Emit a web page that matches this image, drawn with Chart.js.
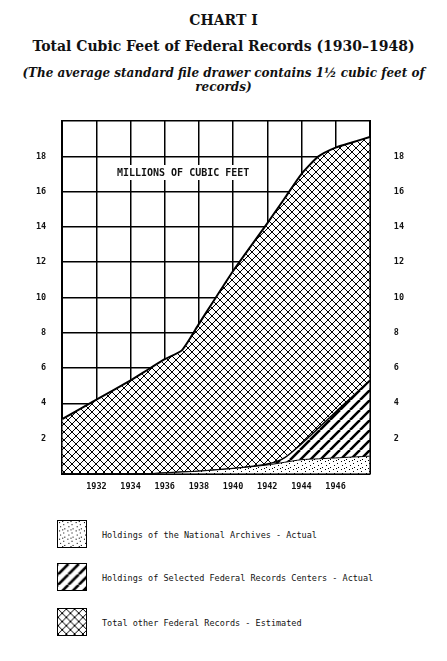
<!DOCTYPE html>
<html><head><meta charset="utf-8">
<script src="https://cdn.jsdelivr.net/npm/chart.js@4"></script>
<style>
body{margin:0;background:#fff;font-family:"DejaVu Serif",serif;width:447px;height:661px;position:relative;overflow:hidden}
.t{position:absolute;left:0;width:447px;text-align:center;color:#111}
#wrap{position:absolute;left:20px;top:100px;width:400px;height:400px}
.leg{position:absolute;left:57px;width:30px;height:28px;border:1.5px solid #000;box-sizing:border-box}
.lt{position:absolute;left:102px;font-family:"DejaVu Sans Mono",monospace;font-size:8.5px;color:#111}
</style></head><body>
<div class="t" style="top:12px;font-weight:bold;font-size:14px">CHART I</div>
<div class="t" style="top:38px;font-weight:bold;font-size:14px">Total Cubic Feet of Federal Records (1930–1948)</div>
<div class="t" style="top:66px;font-weight:bold;font-style:italic;font-size:12px;line-height:14px">(The average standard file drawer contains 1½ cubic feet of<br>records)</div>
<div id="wrap"><canvas id="c" width="400" height="400" style="width:400px;height:400px"></canvas></div>
<canvas class="leg" id="l1" style="top:520px"></canvas>
<div class="lt" style="top:530px">Holdings of the National Archives - Actual</div>
<canvas class="leg" id="l2" style="top:563px"></canvas>
<div class="lt" style="top:573px">Holdings of Selected Federal Records Centers - Actual</div>
<canvas class="leg" id="l3" style="top:608px"></canvas>
<div class="lt" style="top:618px">Total other Federal Records - Estimated</div>
<script>
const years=[1930,1932,1934,1935,1936,1937,1938,1940,1942,1943,1944,1945,1946,1947,1948];
const archives=[0,0,0,0,0.05,0.1,0.15,0.3,0.5,0.65,0.8,0.85,0.9,0.95,1.0];
const centersTop=[0,0,0,0,0.05,0.1,0.15,0.3,0.55,0.9,1.7,2.6,3.5,4.4,5.3];
const totalTop=[3.1,4.2,5.3,5.9,6.5,7.0,8.5,11.5,14.2,15.6,17.0,18.0,18.5,18.8,19.1];
const yTicks=[2,4,6,8,10,12,14,16,18];
const xTicks=[1932,1934,1936,1938,1940,1942,1944,1946];

function pat(type){
  const c=document.createElement('canvas');c.width=8;c.height=8;const g=c.getContext('2d');
  g.fillStyle='#fff';g.fillRect(0,0,8,8);g.strokeStyle='#000';g.fillStyle='#000';
  if(type==='dot'){[[1,1],[5,3],[2,5],[6,7],[4,0]].forEach(p=>g.fillRect(p[0],p[1],1,1));}
  else if(type==='hatch'){c.width=c.height=10;g.fillStyle='#fff';g.fillRect(0,0,10,10);g.lineWidth=2.6;g.beginPath();
    for(let k=-10;k<=20;k+=10){g.moveTo(k,10);g.lineTo(k+10,0);}g.stroke();}
  else {g.lineWidth=1;g.beginPath();g.moveTo(0,0);g.lineTo(8,8);g.moveTo(8,0);g.lineTo(0,8);g.stroke();}
  return g.createPattern(c,'repeat');
}
function pts(a){return years.map((y,i)=>({x:y,y:a[i]}));}
const P={dot:pat('dot'),hatch:pat('hatch'),cross:pat('cross')};
new Chart(document.getElementById('c'),{type:'line',
 data:{datasets:[
  {data:pts(archives),fill:'origin',backgroundColor:P.dot,borderColor:'#000',borderWidth:1,pointRadius:0,tension:0.3},
  {data:pts(centersTop),fill:'-1',backgroundColor:P.hatch,borderColor:'#000',borderWidth:1.5,pointRadius:0,tension:0.3},
  {data:pts(totalTop),fill:'-1',backgroundColor:P.cross,borderColor:'#000',borderWidth:2,pointRadius:0,tension:0.2}
 ]},
 options:{animation:false,responsive:false,plugins:{legend:{display:false},tooltip:{enabled:false}},
  layout:{padding:{top:10}},
  scales:{
   x:{type:'linear',min:1930,max:1948,afterBuildTicks:s=>{s.ticks=[1930,...xTicks,1948].map(v=>({value:v}));},
      grid:{color:'#000',lineWidth:1.5,drawTicks:false},border:{color:'#000',width:2},
      ticks:{padding:8,color:'#111',font:{family:'DejaVu Sans Mono',size:8.5,weight:'bold'},callback:v=>xTicks.includes(v)?v:''}},
   y:{min:0,max:20,afterBuildTicks:s=>{s.ticks=[0,...yTicks,20].map(v=>({value:v}));},
      grid:{color:'#000',lineWidth:1.5,drawTicks:false},border:{color:'#000',width:2},
      ticks:{padding:16,color:'#111',font:{family:'DejaVu Sans Mono',size:8.5,weight:'bold'},callback:v=>yTicks.includes(v)?v:''}},
   y2:{position:'right',min:0,max:20,afterBuildTicks:s=>{s.ticks=yTicks.map(v=>({value:v}));},
      grid:{display:false},border:{color:'#000',width:2},
      ticks:{padding:16,color:'#111',font:{family:'DejaVu Sans Mono',size:8.5,weight:'bold'}}}
  }},
 plugins:[{id:'lbl',afterDraw(ch){const g=ch.ctx;g.save();g.fillStyle='#fff';const x=ch.scales.x.getPixelForValue(1933.2),y=ch.scales.y.getPixelForValue(17);
   g.font='bold 10px "DejaVu Sans Mono"';const t='MILLIONS OF CUBIC FEET';const w=g.measureText(t).width;g.fillRect(x-4,y-9,w+8,15);
   g.fillStyle='#111';g.textBaseline='middle';g.fillText(t,x,y-1);g.restore();}}]
});
[['l1','dot'],['l2','hatch'],['l3','cross']].forEach(([id,t])=>{const e=document.getElementById(id);e.width=27;e.height=25;const g=e.getContext('2d');g.fillStyle=P[t];g.fillRect(0,0,27,25);});
</script></body></html>
